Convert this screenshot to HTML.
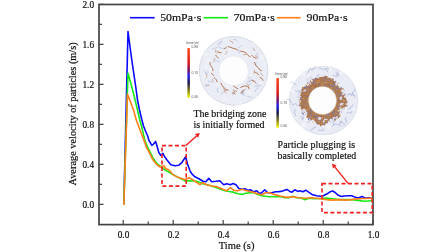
<!DOCTYPE html><html><head><meta charset="utf-8"><title>chart</title><style>html,body{margin:0;padding:0;background:#fff;width:448px;height:252px;overflow:hidden}svg{display:block}text{font-family:"Liberation Serif","Times New Roman",serif;fill:#111;stroke:#111;stroke-width:0.2px}</style></head><body>
<svg width="448" height="252" viewBox="0 0 448 252">
<rect width="448" height="252" fill="#fff"/>
<circle cx="233.6" cy="70.8" r="34.3" fill="#eaedf5" stroke="#cfd4e0" stroke-width="0.8"/>
<circle cx="235.5" cy="96.1" r="1.5" fill="#eff1f7"/>
<circle cx="212.2" cy="54.4" r="0.9" fill="#eff1f7"/>
<circle cx="264.6" cy="73.4" r="1.3" fill="#eff1f7"/>
<circle cx="237.0" cy="104.8" r="1.6" fill="#eff1f7"/>
<circle cx="246.0" cy="50.2" r="2.0" fill="#eff1f7"/>
<circle cx="249.5" cy="92.8" r="2.4" fill="#eff1f7"/>
<circle cx="204.7" cy="66.6" r="2.0" fill="#eff1f7"/>
<circle cx="260.8" cy="82.4" r="1.9" fill="#eff1f7"/>
<circle cx="228.8" cy="85.3" r="2.4" fill="#eff1f7"/>
<circle cx="205.2" cy="75.7" r="2.4" fill="#eff1f7"/>
<circle cx="226.3" cy="38.9" r="1.5" fill="#eff1f7"/>
<circle cx="241.0" cy="48.6" r="2.5" fill="#eff1f7"/>
<circle cx="245.6" cy="59.3" r="1.0" fill="#eff1f7"/>
<circle cx="240.5" cy="103.7" r="1.6" fill="#eff1f7"/>
<circle cx="219.2" cy="56.1" r="1.7" fill="#eff1f7"/>
<circle cx="217.3" cy="85.0" r="1.9" fill="#eff1f7"/>
<circle cx="205.6" cy="54.4" r="2.0" fill="#eff1f7"/>
<circle cx="262.0" cy="57.2" r="2.6" fill="#eff1f7"/>
<circle cx="225.1" cy="55.0" r="2.3" fill="#eff1f7"/>
<circle cx="265.2" cy="63.6" r="1.8" fill="#eff1f7"/>
<circle cx="229.4" cy="52.4" r="2.3" fill="#eff1f7"/>
<circle cx="215.4" cy="61.8" r="0.9" fill="#eff1f7"/>
<circle cx="254.3" cy="43.7" r="1.0" fill="#eff1f7"/>
<circle cx="240.7" cy="49.2" r="1.1" fill="#eff1f7"/>
<circle cx="225.5" cy="99.4" r="2.4" fill="#eff1f7"/>
<circle cx="259.3" cy="78.1" r="0.9" fill="#eff1f7"/>
<circle cx="229.4" cy="50.0" r="2.4" fill="#eff1f7"/>
<circle cx="258.0" cy="67.8" r="2.6" fill="#eff1f7"/>
<circle cx="227.7" cy="85.9" r="1.9" fill="#eff1f7"/>
<circle cx="251.8" cy="74.4" r="1.5" fill="#eff1f7"/>
<circle cx="219.9" cy="59.4" r="0.9" fill="#eff1f7"/>
<circle cx="247.7" cy="55.4" r="2.5" fill="#eff1f7"/>
<circle cx="251.2" cy="57.4" r="1.6" fill="#eff1f7"/>
<circle cx="206.5" cy="67.4" r="1.9" fill="#eff1f7"/>
<circle cx="208.6" cy="61.0" r="2.5" fill="#eff1f7"/>
<circle cx="210.5" cy="69.8" r="2.1" fill="#eff1f7"/>
<circle cx="235.2" cy="91.3" r="2.6" fill="#eff1f7"/>
<circle cx="208.4" cy="67.4" r="0.8" fill="#eff1f7"/>
<circle cx="211.1" cy="84.0" r="0.8" fill="#eff1f7"/>
<circle cx="213.4" cy="52.8" r="0.9" fill="#eff1f7"/>
<path d="M216.8,53.5 L215.9,52.5 L215.5,51.3 L215.7,50.0" fill="none" stroke="#b8704a" stroke-width="0.6" stroke-linecap="round" opacity="0.8"/>
<path d="M253.7,73.6 L254.4,72.5 L254.4,71.2 L254.3,69.9" fill="none" stroke="#b8704a" stroke-width="0.6" stroke-linecap="round" opacity="0.8"/>
<path d="M214.6,58.3 L214.2,59.5 L214.2,60.8 L213.9,62.1" fill="none" stroke="#b8704a" stroke-width="0.6" stroke-linecap="round" opacity="0.8"/>
<path d="M226.3,93.0 L225.3,92.2 L224.4,91.2 L224.1,89.9" fill="none" stroke="#b8704a" stroke-width="0.6" stroke-linecap="round" opacity="0.8"/>
<path d="M225.6,91.1 L225.3,89.8 L224.2,89.1 L223.1,88.4" fill="none" stroke="#b8704a" stroke-width="0.6" stroke-linecap="round" opacity="0.8"/>
<path d="M227.0,51.2 L226.9,52.5 L225.9,53.4 L225.1,54.4" fill="none" stroke="#b8704a" stroke-width="0.6" stroke-linecap="round" opacity="0.8"/>
<path d="M246.7,54.0 L245.7,54.8 L244.4,54.6 L243.1,54.6" fill="none" stroke="#b8704a" stroke-width="0.6" stroke-linecap="round" opacity="0.8"/>
<path d="M236.9,91.4 L235.7,92.0 L234.4,91.8 L233.7,90.7" fill="none" stroke="#b8704a" stroke-width="0.6" stroke-linecap="round" opacity="0.8"/>
<path d="M242.7,91.3 L243.5,90.2 L244.7,89.9 L245.8,89.2" fill="none" stroke="#b8704a" stroke-width="0.6" stroke-linecap="round" opacity="0.8"/>
<path d="M249.0,87.2 L248.7,85.9 L248.0,84.8 L247.2,83.9" fill="none" stroke="#b8704a" stroke-width="0.6" stroke-linecap="round" opacity="0.8"/>
<path d="M212.9,82.2 L213.3,81.0 L212.4,80.1 L212.7,78.8" fill="none" stroke="#b8704a" stroke-width="0.6" stroke-linecap="round" opacity="0.8"/>
<path d="M254.9,50.8 L253.8,50.1 L253.7,48.8 L252.9,47.8" fill="none" stroke="#b8704a" stroke-width="0.6" stroke-linecap="round" opacity="0.8"/>
<path d="M232.8,43.1 L232.2,41.9 L231.1,41.2 L229.9,40.9" fill="none" stroke="#b8704a" stroke-width="0.6" stroke-linecap="round" opacity="0.8"/>
<path d="M236.5,90.9 L235.2,90.8 L234.2,89.9 L233.0,90.2" fill="none" stroke="#b8704a" stroke-width="0.6" stroke-linecap="round" opacity="0.8"/>
<path d="M255.3,55.8 L256.5,56.3 L256.9,57.5 L257.0,58.8" fill="none" stroke="#b8704a" stroke-width="0.6" stroke-linecap="round" opacity="0.8"/>
<path d="M260.4,73.0 L261.4,73.8 L262.1,74.9 L262.8,76.0" fill="none" stroke="#b8704a" stroke-width="0.6" stroke-linecap="round" opacity="0.8"/>
<path d="M209.0,85.6 L207.8,85.2 L206.5,85.4 L205.4,84.7" fill="none" stroke="#b8704a" stroke-width="0.6" stroke-linecap="round" opacity="0.8"/>
<path d="M206.7,74.7 L206.7,76.0 L206.6,77.3 L205.8,78.2" fill="none" stroke="#b8704a" stroke-width="0.6" stroke-linecap="round" opacity="0.8"/>
<path d="M247.5,96.6 L249.0,96.6 L250.2,97.5 L251.6,97.2" fill="none" stroke="#7f8cc4" stroke-width="0.45" stroke-linecap="round" opacity="0.75"/>
<path d="M212.7,48.9 L214.2,48.8 L215.5,48.0 L216.8,47.3" fill="none" stroke="#7f8cc4" stroke-width="0.45" stroke-linecap="round" opacity="0.75"/>
<path d="M211.8,82.2 L210.8,81.1 L209.3,81.1 L208.1,82.0" fill="none" stroke="#7f8cc4" stroke-width="0.45" stroke-linecap="round" opacity="0.75"/>
<path d="M246.9,84.0 L248.2,84.7 L249.6,84.3 L251.1,83.9" fill="none" stroke="#7f8cc4" stroke-width="0.45" stroke-linecap="round" opacity="0.75"/>
<path d="M224.6,91.2 L223.5,92.1 L222.2,92.9 L221.1,93.9" fill="none" stroke="#7f8cc4" stroke-width="0.45" stroke-linecap="round" opacity="0.75"/>
<path d="M241.7,91.8 L242.7,92.9 L243.1,94.4 L243.9,95.7" fill="none" stroke="#7f8cc4" stroke-width="0.45" stroke-linecap="round" opacity="0.75"/>
<path d="M251.4,80.6 L250.2,81.4 L248.7,81.6 L247.3,82.0" fill="none" stroke="#7f8cc4" stroke-width="0.45" stroke-linecap="round" opacity="0.75"/>
<path d="M242.1,45.4 L240.9,46.3 L239.7,47.2 L238.3,47.7" fill="none" stroke="#7f8cc4" stroke-width="0.45" stroke-linecap="round" opacity="0.75"/>
<path d="M209.2,84.1 L208.0,85.1 L206.8,86.0 L205.4,86.4" fill="none" stroke="#7f8cc4" stroke-width="0.45" stroke-linecap="round" opacity="0.75"/>
<path d="M255.1,81.2 L253.7,80.9 L252.9,79.6 L251.8,78.6" fill="none" stroke="#7f8cc4" stroke-width="0.45" stroke-linecap="round" opacity="0.75"/>
<path d="M257.0,53.3 L257.0,54.8 L257.9,56.0 L258.1,57.5" fill="none" stroke="#7f8cc4" stroke-width="0.45" stroke-linecap="round" opacity="0.75"/>
<path d="M217.5,44.7 L218.4,43.4 L219.6,42.6 L220.9,41.9" fill="none" stroke="#7f8cc4" stroke-width="0.45" stroke-linecap="round" opacity="0.75"/>
<path d="M254.6,86.7 L255.8,85.8 L257.3,85.6 L258.2,84.4" fill="none" stroke="#7f8cc4" stroke-width="0.45" stroke-linecap="round" opacity="0.75"/>
<path d="M249.7,81.2 L250.0,79.8 L249.1,78.6 L249.1,77.1" fill="none" stroke="#7f8cc4" stroke-width="0.45" stroke-linecap="round" opacity="0.75"/>
<path d="M255.3,91.5 L255.5,90.0 L256.7,89.2 L258.0,88.4" fill="none" stroke="#7f8cc4" stroke-width="0.45" stroke-linecap="round" opacity="0.75"/>
<path d="M239.1,53.4 L239.3,51.9 L240.0,50.6 L239.7,49.2" fill="none" stroke="#7f8cc4" stroke-width="0.45" stroke-linecap="round" opacity="0.75"/>
<path d="M233.4,39.5 L234.9,39.6 L236.4,39.8 L237.4,40.9" fill="none" stroke="#7f8cc4" stroke-width="0.45" stroke-linecap="round" opacity="0.75"/>
<path d="M234.6,91.1 L234.3,92.6 L233.4,93.7 L232.7,95.1" fill="none" stroke="#7f8cc4" stroke-width="0.45" stroke-linecap="round" opacity="0.75"/>
<path d="M217.8,88.2 L217.1,89.5 L217.5,91.0 L217.9,92.4" fill="none" stroke="#7f8cc4" stroke-width="0.45" stroke-linecap="round" opacity="0.75"/>
<path d="M257.0,66.8 L256.1,65.6 L255.7,64.1 L256.0,62.7" fill="none" stroke="#7f8cc4" stroke-width="0.45" stroke-linecap="round" opacity="0.75"/>
<path d="M222.0,48.4 L220.5,48.2 L219.5,47.0 L218.1,46.7" fill="none" stroke="#7f8cc4" stroke-width="0.45" stroke-linecap="round" opacity="0.75"/>
<path d="M257.2,87.0 L258.5,86.3 L259.7,85.5 L261.2,85.2" fill="none" stroke="#7f8cc4" stroke-width="0.45" stroke-linecap="round" opacity="0.75"/>
<path d="M242.0,90.7 L242.3,92.2 L243.0,93.5 L244.3,94.3" fill="none" stroke="#7f8cc4" stroke-width="0.45" stroke-linecap="round" opacity="0.75"/>
<path d="M222.2,41.3 L221.2,42.5 L220.5,43.8 L219.2,44.5" fill="none" stroke="#7f8cc4" stroke-width="0.45" stroke-linecap="round" opacity="0.75"/>
<path d="M215.0,59.8 L216.3,60.6 L217.6,61.3 L219.1,61.6" fill="none" stroke="#7f8cc4" stroke-width="0.45" stroke-linecap="round" opacity="0.75"/>
<path d="M244.4,91.1 L243.2,92.0 L242.7,93.4 L241.3,93.9" fill="none" stroke="#7f8cc4" stroke-width="0.45" stroke-linecap="round" opacity="0.75"/>
<path d="M207.4,74.2 L206.0,73.6 L205.2,72.4 L204.5,71.0" fill="none" stroke="#7f8cc4" stroke-width="0.45" stroke-linecap="round" opacity="0.75"/>
<path d="M205.6,74.1 L206.3,72.8 L207.5,71.9 L208.9,72.1" fill="none" stroke="#7f8cc4" stroke-width="0.45" stroke-linecap="round" opacity="0.75"/>
<path d="M228.2,46.6 C228.6,46.7 230.0,47.1 231.0,47.5 C231.9,47.8 232.9,48.2 233.7,48.5 C234.6,48.8 235.3,48.7 236.0,49.0 C236.7,49.3 237.6,50.2 237.9,50.4" fill="none" stroke="#ac6438" stroke-width="0.95" stroke-linecap="round" opacity="0.9"/>
<path d="M240.7,51.3 C241.2,51.4 242.7,51.4 243.6,51.7 C244.5,52.1 245.5,52.6 246.2,53.2 C247.0,53.8 247.3,54.8 248.0,55.4 C248.7,56.0 250.0,56.6 250.4,56.8" fill="none" stroke="#ac6438" stroke-width="0.95" stroke-linecap="round" opacity="0.9"/>
<path d="M251.8,55.4 C252.1,55.7 253.0,56.7 253.7,57.1 C254.4,57.6 255.6,58.0 255.9,58.2" fill="none" stroke="#ac6438" stroke-width="0.95" stroke-linecap="round" opacity="0.9"/>
<path d="M254.6,62.4 C254.8,62.9 255.2,64.8 255.9,65.7 C256.6,66.6 258.1,67.3 258.7,67.9 C259.3,68.6 259.1,69.4 259.6,69.8 C260.1,70.3 261.2,70.6 261.5,70.7" fill="none" stroke="#ac6438" stroke-width="0.95" stroke-linecap="round" opacity="0.9"/>
<path d="M254.6,72.1 C255.0,72.3 256.2,72.6 256.9,73.1 C257.6,73.5 258.4,74.6 258.7,74.9" fill="none" stroke="#ac6438" stroke-width="0.95" stroke-linecap="round" opacity="0.9"/>
<path d="M251.8,80.4 C252.2,80.6 253.5,80.9 254.2,81.3 C254.9,81.8 255.7,82.9 255.9,83.2" fill="none" stroke="#ac6438" stroke-width="0.95" stroke-linecap="round" opacity="0.9"/>
<path d="M240.7,87.4 C241.1,87.2 242.4,86.5 243.3,86.2 C244.3,86.0 245.4,85.9 246.2,86.0 C247.0,86.1 247.6,86.5 248.1,86.9 C248.5,87.4 248.8,88.5 249.0,88.8" fill="none" stroke="#ac6438" stroke-width="0.95" stroke-linecap="round" opacity="0.9"/>
<path d="M232.3,84.6 C232.8,85.0 233.9,86.3 234.9,87.0 C235.8,87.7 237.4,88.5 237.9,88.8" fill="none" stroke="#ac6438" stroke-width="0.95" stroke-linecap="round" opacity="0.9"/>
<path d="M221.2,83.2 C221.4,83.6 221.6,85.0 222.0,85.7 C222.5,86.4 223.4,86.8 224.0,87.4 C224.6,88.0 224.9,89.0 225.6,89.4 C226.3,89.9 227.7,90.0 228.2,90.2" fill="none" stroke="#ac6438" stroke-width="0.95" stroke-linecap="round" opacity="0.9"/>
<path d="M214.3,77.7 C214.6,78.0 215.6,78.8 216.1,79.5 C216.5,80.2 216.9,81.4 217.1,81.8" fill="none" stroke="#ac6438" stroke-width="0.95" stroke-linecap="round" opacity="0.9"/>
<path d="M210.1,62.4 C210.1,62.8 209.9,64.0 210.1,64.7 C210.3,65.4 211.1,65.9 211.5,66.6 C211.9,67.2 212.3,67.8 212.5,68.5 C212.8,69.2 212.8,70.4 212.9,70.7" fill="none" stroke="#ac6438" stroke-width="0.95" stroke-linecap="round" opacity="0.9"/>
<path d="M215.7,55.4 C215.9,55.7 216.7,56.3 217.2,56.7 C217.6,57.2 218.2,58.0 218.4,58.2" fill="none" stroke="#ac6438" stroke-width="0.95" stroke-linecap="round" opacity="0.9"/>
<path d="M217.1,51.3 C217.4,51.5 218.3,52.2 219.0,52.4 C219.7,52.6 220.9,52.6 221.2,52.7" fill="none" stroke="#ac6438" stroke-width="0.95" stroke-linecap="round" opacity="0.9"/>
<path d="M232.3,92.9 C232.6,92.9 233.6,92.7 234.1,92.9 C234.6,93.1 234.9,94.1 235.1,94.3" fill="none" stroke="#ac6438" stroke-width="0.95" stroke-linecap="round" opacity="0.9"/>
<path d="M260.1,77.7 C260.4,77.8 261.6,78.0 262.1,78.5 C262.5,78.9 262.8,80.1 262.9,80.4" fill="none" stroke="#ac6438" stroke-width="0.95" stroke-linecap="round" opacity="0.9"/>
<path d="M224.0,48.5 C224.2,48.5 225.1,48.6 225.5,48.4 C225.8,48.1 226.1,47.3 226.2,47.1" fill="none" stroke="#ac6438" stroke-width="0.95" stroke-linecap="round" opacity="0.9"/>
<path d="M243.4,90.2 C243.3,90.4 242.8,91.4 242.4,91.9 C241.9,92.3 240.9,92.8 240.7,92.9" fill="none" stroke="#ac6438" stroke-width="0.95" stroke-linecap="round" opacity="0.9"/>
<path d="M211.5,73.5 C211.7,73.6 212.4,73.9 212.7,74.3 C213.0,74.6 213.3,75.2 213.4,75.4" fill="none" stroke="#ac6438" stroke-width="0.95" stroke-linecap="round" opacity="0.9"/>
<circle cx="233.6" cy="70.8" r="14.7" fill="#fdfdfd" stroke="#d8dce6" stroke-width="0.4"/>
<circle cx="323.6" cy="100.6" r="34.2" fill="#e9ecf4" stroke="#d3d8e4" stroke-width="0.7"/>
<circle cx="316.0" cy="115.8" r="2.0" fill="#f1f3f8"/>
<circle cx="345.9" cy="111.5" r="1.5" fill="#f1f3f8"/>
<circle cx="346.3" cy="109.2" r="0.9" fill="#f1f3f8"/>
<circle cx="309.5" cy="106.8" r="1.0" fill="#f1f3f8"/>
<circle cx="296.3" cy="114.6" r="1.0" fill="#f1f3f8"/>
<circle cx="328.1" cy="126.9" r="2.5" fill="#f1f3f8"/>
<circle cx="304.1" cy="90.4" r="2.6" fill="#f1f3f8"/>
<circle cx="353.6" cy="109.6" r="1.3" fill="#f1f3f8"/>
<circle cx="333.7" cy="113.5" r="1.4" fill="#f1f3f8"/>
<circle cx="330.7" cy="84.4" r="1.8" fill="#f1f3f8"/>
<circle cx="309.8" cy="84.1" r="1.8" fill="#f1f3f8"/>
<circle cx="337.6" cy="106.4" r="1.2" fill="#f1f3f8"/>
<circle cx="314.0" cy="80.1" r="1.4" fill="#f1f3f8"/>
<circle cx="303.7" cy="88.7" r="1.3" fill="#f1f3f8"/>
<circle cx="331.3" cy="73.6" r="1.2" fill="#f1f3f8"/>
<circle cx="301.6" cy="89.5" r="2.4" fill="#f1f3f8"/>
<circle cx="321.0" cy="80.9" r="2.6" fill="#f1f3f8"/>
<circle cx="340.1" cy="115.8" r="2.2" fill="#f1f3f8"/>
<circle cx="337.4" cy="120.1" r="0.9" fill="#f1f3f8"/>
<circle cx="309.1" cy="75.0" r="1.8" fill="#f1f3f8"/>
<circle cx="338.0" cy="86.3" r="2.1" fill="#f1f3f8"/>
<circle cx="302.3" cy="86.2" r="1.6" fill="#f1f3f8"/>
<circle cx="341.3" cy="72.7" r="1.7" fill="#f1f3f8"/>
<circle cx="315.8" cy="87.5" r="2.1" fill="#f1f3f8"/>
<circle cx="303.1" cy="73.4" r="2.3" fill="#f1f3f8"/>
<circle cx="318.9" cy="121.9" r="2.0" fill="#f1f3f8"/>
<circle cx="346.7" cy="103.9" r="1.1" fill="#f1f3f8"/>
<circle cx="334.9" cy="110.8" r="2.2" fill="#f1f3f8"/>
<circle cx="336.7" cy="114.4" r="1.5" fill="#f1f3f8"/>
<circle cx="334.4" cy="89.3" r="1.6" fill="#f1f3f8"/>
<circle cx="293.3" cy="90.9" r="2.3" fill="#f1f3f8"/>
<circle cx="336.5" cy="85.8" r="1.5" fill="#f1f3f8"/>
<circle cx="303.5" cy="125.3" r="2.5" fill="#f1f3f8"/>
<circle cx="333.8" cy="114.9" r="1.2" fill="#f1f3f8"/>
<circle cx="326.1" cy="124.3" r="1.9" fill="#f1f3f8"/>
<circle cx="322.5" cy="114.6" r="1.6" fill="#f1f3f8"/>
<circle cx="306.3" cy="119.2" r="2.5" fill="#f1f3f8"/>
<circle cx="314.7" cy="77.9" r="1.9" fill="#f1f3f8"/>
<circle cx="316.8" cy="87.1" r="2.4" fill="#f1f3f8"/>
<circle cx="329.5" cy="69.5" r="2.2" fill="#f1f3f8"/>
<path d="M301.4,118.4 L302.0,119.4 L303.2,119.3 L303.6,118.1 L303.1,117.0 L301.9,116.8 L300.7,117.0" fill="none" stroke="#4858a8" stroke-width="0.45" stroke-linecap="round" stroke-linejoin="round" opacity="0.6"/>
<path d="M348.2,109.0 L349.4,108.9 L350.5,108.4 L350.4,107.2 L351.3,106.5 L352.4,106.0 L352.7,104.8" fill="none" stroke="#4858a8" stroke-width="0.45" stroke-linecap="round" stroke-linejoin="round" opacity="0.6"/>
<path d="M323.2,128.8 L323.5,129.9 L322.8,130.9 L321.7,130.5 L320.5,130.1 L319.3,129.9 L318.6,130.8" fill="none" stroke="#4858a8" stroke-width="0.45" stroke-linecap="round" stroke-linejoin="round" opacity="0.6"/>
<path d="M346.1,117.4 L345.1,118.1 L345.1,119.3 L346.2,119.8 L346.2,121.0 L346.1,122.2 L347.0,123.0" fill="none" stroke="#4858a8" stroke-width="0.45" stroke-linecap="round" stroke-linejoin="round" opacity="0.6"/>
<path d="M298.4,93.6 L298.2,92.4 L299.1,91.6 L300.2,91.2 L301.0,90.3 L301.4,89.2 L300.8,88.1" fill="none" stroke="#4858a8" stroke-width="0.45" stroke-linecap="round" stroke-linejoin="round" opacity="0.6"/>
<path d="M327.6,71.6 L327.3,70.4 L326.3,69.7 L326.1,68.6 L327.2,68.0 L328.3,68.5 L328.7,69.6" fill="none" stroke="#4858a8" stroke-width="0.45" stroke-linecap="round" stroke-linejoin="round" opacity="0.6"/>
<path d="M336.3,72.8 L336.4,74.0 L337.0,75.0 L338.2,74.9 L338.4,73.7 L338.0,72.6 L337.0,71.9" fill="none" stroke="#4858a8" stroke-width="0.45" stroke-linecap="round" stroke-linejoin="round" opacity="0.6"/>
<path d="M312.3,70.7 L311.5,69.9 L312.1,68.8 L313.3,69.0 L314.4,68.7 L315.1,67.7 L315.0,66.5" fill="none" stroke="#4858a8" stroke-width="0.45" stroke-linecap="round" stroke-linejoin="round" opacity="0.6"/>
<path d="M332.6,126.4 L332.9,125.2 L333.9,124.7 L335.0,124.1 L336.2,124.0 L337.1,124.8 L338.2,124.3" fill="none" stroke="#4858a8" stroke-width="0.45" stroke-linecap="round" stroke-linejoin="round" opacity="0.6"/>
<path d="M306.7,73.8 L307.6,73.0 L308.5,72.2 L308.5,71.0 L309.2,70.1 L309.6,68.9 L310.6,68.3" fill="none" stroke="#4858a8" stroke-width="0.45" stroke-linecap="round" stroke-linejoin="round" opacity="0.6"/>
<path d="M351.6,95.6 L350.6,94.9 L350.1,93.9 L348.9,93.5 L348.0,94.3 L348.0,95.5 L347.0,96.1" fill="none" stroke="#4858a8" stroke-width="0.45" stroke-linecap="round" stroke-linejoin="round" opacity="0.6"/>
<path d="M332.9,75.4 L334.1,75.6 L335.1,76.2 L336.3,76.4 L337.5,76.8 L338.4,76.0 L338.0,74.9" fill="none" stroke="#4858a8" stroke-width="0.45" stroke-linecap="round" stroke-linejoin="round" opacity="0.6"/>
<path d="M353.1,95.1 L352.8,94.0 L352.3,92.9 L352.9,91.9 L354.0,91.6 L354.7,90.6 L354.7,89.4" fill="none" stroke="#4858a8" stroke-width="0.45" stroke-linecap="round" stroke-linejoin="round" opacity="0.6"/>
<path d="M316.3,127.1 L315.1,127.2 L313.9,127.5 L313.5,128.7 L312.4,128.9 L311.4,129.5 L310.4,130.3" fill="none" stroke="#4858a8" stroke-width="0.45" stroke-linecap="round" stroke-linejoin="round" opacity="0.6"/>
<path d="M296.2,84.8 L295.2,84.1 L294.2,83.5 L293.3,82.7 L292.4,81.9 L291.4,82.5 L290.4,83.2" fill="none" stroke="#4858a8" stroke-width="0.45" stroke-linecap="round" stroke-linejoin="round" opacity="0.6"/>
<path d="M334.2,124.4 L333.6,123.3 L332.9,122.3 L332.9,121.1 L333.0,120.0 L332.6,118.8 L332.3,117.7" fill="none" stroke="#4858a8" stroke-width="0.45" stroke-linecap="round" stroke-linejoin="round" opacity="0.6"/>
<path d="M294.6,90.1 L295.4,90.9 L296.6,91.2 L297.7,90.7 L298.8,91.0 L300.0,91.4 L301.0,92.0" fill="none" stroke="#4858a8" stroke-width="0.45" stroke-linecap="round" stroke-linejoin="round" opacity="0.6"/>
<path d="M325.6,69.0 L324.4,69.1 L323.2,69.1 L322.0,69.2 L320.9,68.6 L319.8,68.2 L318.7,67.7" fill="none" stroke="#4858a8" stroke-width="0.45" stroke-linecap="round" stroke-linejoin="round" opacity="0.6"/>
<path d="M292.1,105.0 L292.8,104.0 L294.0,104.3 L295.1,103.9 L296.2,103.6 L297.0,104.5 L296.7,105.7" fill="none" stroke="#4858a8" stroke-width="0.45" stroke-linecap="round" stroke-linejoin="round" opacity="0.6"/>
<path d="M341.0,120.9 L340.9,122.1 L341.6,123.1 L342.8,123.0 L343.9,123.3 L344.5,124.4 L343.9,125.4" fill="none" stroke="#4858a8" stroke-width="0.45" stroke-linecap="round" stroke-linejoin="round" opacity="0.6"/>
<path d="M340.8,125.7 L339.6,125.6 L339.0,124.6 L339.8,123.7 L339.8,122.5 L340.9,122.0 L341.9,121.2" fill="none" stroke="#4858a8" stroke-width="0.45" stroke-linecap="round" stroke-linejoin="round" opacity="0.6"/>
<path d="M291.6,103.2 L291.1,102.1 L290.5,101.0 L289.9,100.0 L289.0,99.2 L287.8,99.4 L286.8,100.1" fill="none" stroke="#4858a8" stroke-width="0.45" stroke-linecap="round" stroke-linejoin="round" opacity="0.6"/>
<path d="M319.0,74.9 L317.9,74.7 L317.3,75.7 L317.2,76.9 L316.8,78.0 L316.3,79.1 L317.1,80.0" fill="none" stroke="#4858a8" stroke-width="0.45" stroke-linecap="round" stroke-linejoin="round" opacity="0.6"/>
<path d="M354.4,97.7 L354.8,96.6 L354.5,95.4 L353.3,95.3 L352.5,94.4 L351.4,94.1 L350.4,94.8" fill="none" stroke="#4858a8" stroke-width="0.45" stroke-linecap="round" stroke-linejoin="round" opacity="0.6"/>
<path d="M295.7,115.5 L295.4,114.3 L294.3,113.7 L294.3,112.5 L294.5,111.4 L295.3,110.4 L294.8,109.3" fill="none" stroke="#4858a8" stroke-width="0.45" stroke-linecap="round" stroke-linejoin="round" opacity="0.6"/>
<path d="M351.9,111.3 L351.9,112.5 L350.8,113.0 L349.6,113.1 L348.7,112.4 L347.6,112.8 L346.6,112.2" fill="none" stroke="#4858a8" stroke-width="0.45" stroke-linecap="round" stroke-linejoin="round" opacity="0.6"/>
<polygon points="345.2,100.5 348.2,101.7 347.2,102.7 346.8,103.8 347.3,105.0 348.0,106.3 345.3,106.8 344.1,107.5 344.4,108.7 342.6,109.1 341.4,109.6 340.9,110.4 339.9,110.9 339.8,111.9 339.6,112.9 339.1,113.8 339.7,115.5 338.0,115.3 337.8,116.5 336.3,116.3 335.8,117.2 334.2,116.6 333.7,117.5 332.4,117.0 332.6,119.3 331.4,119.0 330.2,118.4 329.7,119.8 329.5,121.9 327.9,120.2 327.7,123.3 326.6,123.0 325.7,123.9 324.8,125.7 323.6,124.7 322.5,125.2 321.4,125.7 320.2,126.4 319.3,123.9 318.1,124.9 317.2,123.9 316.3,123.1 315.5,121.9 314.7,121.3 314.1,120.1 313.1,120.0 312.3,119.5 310.3,121.0 310.2,119.1 309.6,118.3 309.1,117.3 307.0,118.2 306.5,117.2 306.6,115.7 307.3,113.8 307.2,112.7 306.8,111.9 306.0,111.4 306.3,110.2 304.8,110.0 304.5,109.1 301.6,109.4 300.6,108.7 300.9,107.5 301.1,106.4 298.1,106.1 299.7,104.6 299.3,103.6 300.4,102.5 299.2,101.5 299.1,100.5 299.3,99.5 300.4,98.5 299.6,97.4 301.3,96.7 300.5,95.5 301.1,94.6 300.2,93.2 301.4,92.6 301.7,91.6 301.3,90.3 302.2,89.6 302.0,88.3 303.2,87.8 303.7,86.9 305.1,86.6 306.1,86.2 306.8,85.4 308.8,86.2 309.7,85.8 309.0,83.6 311.2,85.0 310.7,82.6 311.4,82.0 312.9,82.7 312.5,79.6 313.2,78.7 314.4,78.9 315.2,78.1 316.2,77.6 317.7,79.5 318.5,78.3 319.5,78.2 320.4,77.1 321.4,77.0 322.5,76.7 323.5,77.1 324.7,75.8 325.8,76.1 327.0,75.8 327.8,77.2 328.7,78.0 329.8,78.0 331.0,77.9 331.5,79.5 333.2,78.3 333.4,80.2 334.1,81.1 334.6,82.1 335.3,82.9 335.4,84.3 335.1,86.1 337.5,84.8 338.2,85.5 338.4,86.6 339.3,87.1 340.5,87.4 339.6,89.2 342.0,88.8 341.1,90.5 340.9,91.6 341.7,92.3 343.3,92.7 341.9,94.2 343.8,94.6 345.0,95.4 343.9,96.6 344.2,97.6 345.2,98.5 346.5,99.4 347.4,100.5" fill="#a97a5a"/>
<circle cx="307.3" cy="86.8" r="0.67" fill="#8a7cab"/>
<circle cx="312.4" cy="118.4" r="0.68" fill="#d49444"/>
<circle cx="335.1" cy="114.5" r="0.52" fill="#d0a060"/>
<circle cx="312.6" cy="82.0" r="0.53" fill="#d0a060"/>
<circle cx="304.0" cy="98.6" r="0.75" fill="#d0a060"/>
<circle cx="342.0" cy="99.7" r="0.84" fill="#d49444"/>
<circle cx="335.6" cy="95.0" r="0.43" fill="#d0a060"/>
<circle cx="298.6" cy="99.5" r="0.57" fill="#d49444"/>
<circle cx="342.7" cy="88.8" r="0.66" fill="#8a7cab"/>
<circle cx="334.6" cy="115.5" r="0.46" fill="#a0663a"/>
<circle cx="330.6" cy="83.2" r="0.72" fill="#8a7cab"/>
<circle cx="325.2" cy="123.3" r="0.58" fill="#d0a060"/>
<circle cx="335.2" cy="120.3" r="0.58" fill="#d0a060"/>
<circle cx="319.9" cy="82.5" r="0.54" fill="#8a80b8"/>
<circle cx="330.0" cy="88.7" r="0.78" fill="#a0663a"/>
<circle cx="339.5" cy="116.4" r="0.81" fill="#c98634"/>
<circle cx="318.1" cy="117.7" r="0.58" fill="#8a80b8"/>
<circle cx="332.6" cy="89.7" r="0.74" fill="#8a80b8"/>
<circle cx="332.7" cy="87.2" r="0.78" fill="#c98634"/>
<circle cx="317.3" cy="123.3" r="0.84" fill="#7874b0"/>
<circle cx="306.7" cy="107.2" r="0.75" fill="#a0663a"/>
<circle cx="309.7" cy="106.8" r="0.81" fill="#8a80b8"/>
<circle cx="340.7" cy="93.4" r="0.42" fill="#8a7cab"/>
<circle cx="320.4" cy="82.1" r="0.69" fill="#c07830"/>
<circle cx="319.2" cy="114.6" r="0.48" fill="#c07830"/>
<circle cx="308.0" cy="109.1" r="0.73" fill="#d49444"/>
<circle cx="338.9" cy="98.0" r="0.54" fill="#7874b0"/>
<circle cx="305.7" cy="94.2" r="0.69" fill="#c07830"/>
<circle cx="339.4" cy="109.1" r="0.65" fill="#d0a060"/>
<circle cx="305.9" cy="105.5" r="0.59" fill="#d0a060"/>
<circle cx="306.8" cy="95.6" r="0.55" fill="#c07830"/>
<circle cx="336.3" cy="109.4" r="0.76" fill="#d49444"/>
<circle cx="326.7" cy="114.1" r="0.57" fill="#8a80b8"/>
<circle cx="322.1" cy="84.4" r="0.55" fill="#d49444"/>
<circle cx="338.0" cy="106.9" r="0.46" fill="#a0663a"/>
<circle cx="302.2" cy="100.1" r="0.44" fill="#7874b0"/>
<circle cx="336.7" cy="89.7" r="0.59" fill="#d0a060"/>
<circle cx="314.1" cy="121.0" r="0.46" fill="#c98634"/>
<circle cx="303.2" cy="110.3" r="0.84" fill="#d0a060"/>
<circle cx="307.8" cy="101.4" r="0.84" fill="#d0a060"/>
<circle cx="322.6" cy="115.6" r="0.47" fill="#c07830"/>
<circle cx="337.4" cy="97.8" r="0.44" fill="#d0a060"/>
<circle cx="324.9" cy="86.7" r="0.50" fill="#c07830"/>
<circle cx="340.4" cy="90.6" r="0.83" fill="#d49444"/>
<circle cx="309.0" cy="86.7" r="0.71" fill="#8a80b8"/>
<circle cx="333.7" cy="110.0" r="0.57" fill="#7874b0"/>
<circle cx="325.8" cy="120.2" r="0.64" fill="#c98634"/>
<circle cx="339.3" cy="100.1" r="0.69" fill="#a0663a"/>
<circle cx="336.5" cy="88.0" r="0.65" fill="#7874b0"/>
<circle cx="340.3" cy="103.8" r="0.42" fill="#d49444"/>
<circle cx="330.4" cy="122.0" r="0.44" fill="#8a80b8"/>
<circle cx="325.0" cy="118.6" r="0.50" fill="#a0663a"/>
<circle cx="339.5" cy="104.2" r="0.56" fill="#8a80b8"/>
<circle cx="311.3" cy="109.0" r="0.73" fill="#d49444"/>
<circle cx="306.5" cy="100.0" r="0.54" fill="#7874b0"/>
<circle cx="329.4" cy="85.7" r="0.52" fill="#7874b0"/>
<circle cx="334.1" cy="90.8" r="0.67" fill="#d0a060"/>
<circle cx="337.5" cy="89.1" r="0.83" fill="#c98634"/>
<circle cx="333.4" cy="114.8" r="0.41" fill="#7874b0"/>
<circle cx="307.6" cy="90.2" r="0.48" fill="#c98634"/>
<circle cx="302.4" cy="107.1" r="0.73" fill="#a0663a"/>
<circle cx="345.8" cy="100.1" r="0.49" fill="#a0663a"/>
<circle cx="311.4" cy="84.8" r="0.41" fill="#d0a060"/>
<circle cx="313.4" cy="85.2" r="0.84" fill="#a0663a"/>
<circle cx="308.4" cy="105.8" r="0.53" fill="#8a7cab"/>
<circle cx="308.5" cy="119.4" r="0.65" fill="#8a7cab"/>
<circle cx="323.5" cy="82.7" r="0.77" fill="#d49444"/>
<circle cx="309.3" cy="106.5" r="0.49" fill="#d0a060"/>
<circle cx="304.7" cy="95.7" r="0.56" fill="#a0663a"/>
<circle cx="333.9" cy="91.9" r="0.51" fill="#8a80b8"/>
<circle cx="309.8" cy="87.7" r="0.42" fill="#8a80b8"/>
<circle cx="343.9" cy="109.4" r="0.49" fill="#d49444"/>
<circle cx="341.0" cy="108.2" r="0.52" fill="#a0663a"/>
<circle cx="342.0" cy="95.2" r="0.74" fill="#d49444"/>
<circle cx="313.9" cy="78.9" r="0.40" fill="#d49444"/>
<circle cx="323.3" cy="77.3" r="0.41" fill="#8a7cab"/>
<circle cx="324.4" cy="119.2" r="0.83" fill="#d0a060"/>
<circle cx="310.0" cy="111.3" r="0.77" fill="#8a80b8"/>
<circle cx="335.2" cy="114.5" r="0.76" fill="#c98634"/>
<circle cx="320.9" cy="78.3" r="0.67" fill="#c07830"/>
<circle cx="314.4" cy="115.7" r="0.75" fill="#a0663a"/>
<circle cx="306.7" cy="89.7" r="0.74" fill="#8a80b8"/>
<circle cx="322.7" cy="115.1" r="0.62" fill="#c98634"/>
<circle cx="307.5" cy="96.2" r="0.80" fill="#8a80b8"/>
<circle cx="339.1" cy="99.2" r="0.49" fill="#8a7cab"/>
<circle cx="301.5" cy="111.9" r="0.48" fill="#d0a060"/>
<circle cx="335.0" cy="114.3" r="0.74" fill="#7874b0"/>
<circle cx="334.3" cy="83.6" r="0.75" fill="#8a7cab"/>
<circle cx="317.9" cy="116.7" r="0.57" fill="#d49444"/>
<circle cx="321.3" cy="84.6" r="0.48" fill="#7874b0"/>
<circle cx="324.0" cy="117.2" r="0.55" fill="#7874b0"/>
<circle cx="303.5" cy="115.0" r="0.69" fill="#7874b0"/>
<circle cx="337.5" cy="111.5" r="0.45" fill="#c98634"/>
<circle cx="300.6" cy="104.0" r="0.81" fill="#d0a060"/>
<circle cx="338.9" cy="104.7" r="0.42" fill="#8a7cab"/>
<circle cx="304.5" cy="87.4" r="0.82" fill="#7874b0"/>
<circle cx="306.8" cy="116.8" r="0.67" fill="#d0a060"/>
<circle cx="325.7" cy="80.1" r="0.45" fill="#c98634"/>
<circle cx="305.9" cy="89.0" r="0.42" fill="#7874b0"/>
<circle cx="314.8" cy="112.7" r="0.42" fill="#d49444"/>
<circle cx="319.9" cy="77.5" r="0.77" fill="#c98634"/>
<circle cx="307.6" cy="110.1" r="0.44" fill="#d49444"/>
<circle cx="341.1" cy="104.2" r="0.43" fill="#d0a060"/>
<circle cx="336.9" cy="111.2" r="0.69" fill="#c07830"/>
<circle cx="335.6" cy="109.0" r="0.58" fill="#d49444"/>
<circle cx="319.0" cy="117.2" r="0.54" fill="#c98634"/>
<circle cx="306.4" cy="93.4" r="0.41" fill="#8a80b8"/>
<circle cx="324.8" cy="78.6" r="0.58" fill="#7874b0"/>
<circle cx="303.1" cy="113.7" r="0.81" fill="#8a80b8"/>
<circle cx="302.8" cy="110.7" r="0.66" fill="#8a80b8"/>
<circle cx="308.2" cy="116.8" r="0.41" fill="#c07830"/>
<circle cx="303.2" cy="94.0" r="0.44" fill="#8a80b8"/>
<circle cx="309.8" cy="88.2" r="0.47" fill="#c07830"/>
<circle cx="318.5" cy="119.3" r="0.45" fill="#8a7cab"/>
<circle cx="300.5" cy="101.8" r="0.54" fill="#7874b0"/>
<circle cx="330.0" cy="88.2" r="0.54" fill="#d0a060"/>
<circle cx="306.6" cy="87.8" r="0.81" fill="#8a7cab"/>
<circle cx="306.3" cy="85.2" r="0.69" fill="#c07830"/>
<circle cx="335.0" cy="84.7" r="0.77" fill="#7874b0"/>
<circle cx="329.1" cy="115.3" r="0.82" fill="#8a80b8"/>
<circle cx="332.3" cy="115.1" r="0.51" fill="#c07830"/>
<circle cx="318.9" cy="77.8" r="0.80" fill="#c98634"/>
<circle cx="333.9" cy="83.2" r="0.45" fill="#a0663a"/>
<circle cx="306.7" cy="89.1" r="0.69" fill="#d49444"/>
<circle cx="316.6" cy="115.9" r="0.70" fill="#8a80b8"/>
<circle cx="305.1" cy="106.5" r="0.40" fill="#c98634"/>
<circle cx="341.1" cy="98.9" r="0.74" fill="#d0a060"/>
<circle cx="326.0" cy="82.2" r="0.76" fill="#c07830"/>
<circle cx="310.6" cy="109.1" r="0.59" fill="#a0663a"/>
<circle cx="337.9" cy="110.5" r="0.42" fill="#c98634"/>
<circle cx="338.4" cy="117.5" r="0.75" fill="#a0663a"/>
<circle cx="308.0" cy="99.5" r="0.69" fill="#8a80b8"/>
<circle cx="325.5" cy="86.6" r="0.85" fill="#8a7cab"/>
<circle cx="320.0" cy="78.5" r="0.46" fill="#7874b0"/>
<circle cx="335.2" cy="89.4" r="0.71" fill="#c07830"/>
<circle cx="319.6" cy="84.6" r="0.67" fill="#a0663a"/>
<circle cx="322.3" cy="117.7" r="0.81" fill="#d49444"/>
<circle cx="306.6" cy="105.0" r="0.49" fill="#d0a060"/>
<circle cx="321.0" cy="119.5" r="0.57" fill="#a0663a"/>
<circle cx="328.2" cy="117.6" r="0.71" fill="#d49444"/>
<circle cx="334.9" cy="90.9" r="0.45" fill="#d49444"/>
<circle cx="302.5" cy="96.6" r="0.83" fill="#a0663a"/>
<circle cx="304.1" cy="106.1" r="0.51" fill="#8a7cab"/>
<circle cx="300.5" cy="95.5" r="0.52" fill="#a0663a"/>
<circle cx="342.2" cy="99.3" r="0.55" fill="#a0663a"/>
<circle cx="336.7" cy="108.5" r="0.53" fill="#c98634"/>
<circle cx="305.5" cy="98.8" r="0.73" fill="#a0663a"/>
<circle cx="322.2" cy="84.3" r="0.68" fill="#d49444"/>
<circle cx="305.1" cy="108.4" r="0.46" fill="#c98634"/>
<circle cx="325.4" cy="120.8" r="0.42" fill="#c98634"/>
<circle cx="307.0" cy="93.5" r="0.64" fill="#a0663a"/>
<circle cx="308.0" cy="109.3" r="0.49" fill="#c07830"/>
<circle cx="309.2" cy="87.3" r="0.41" fill="#c07830"/>
<circle cx="329.2" cy="80.5" r="0.44" fill="#d0a060"/>
<circle cx="307.8" cy="83.2" r="0.58" fill="#d49444"/>
<circle cx="321.2" cy="114.6" r="0.67" fill="#a0663a"/>
<circle cx="304.9" cy="91.0" r="0.51" fill="#d0a060"/>
<circle cx="334.4" cy="92.3" r="0.58" fill="#c98634"/>
<circle cx="323.6" cy="115.0" r="0.41" fill="#8a7cab"/>
<circle cx="300.3" cy="93.1" r="0.59" fill="#c07830"/>
<circle cx="302.2" cy="98.2" r="0.77" fill="#8a80b8"/>
<circle cx="330.3" cy="115.7" r="0.68" fill="#d49444"/>
<circle cx="343.7" cy="99.7" r="0.72" fill="#d0a060"/>
<circle cx="344.9" cy="101.4" r="0.44" fill="#d0a060"/>
<circle cx="313.7" cy="87.4" r="0.52" fill="#8a7cab"/>
<circle cx="313.1" cy="88.5" r="0.72" fill="#d49444"/>
<circle cx="320.5" cy="119.9" r="0.71" fill="#8a80b8"/>
<circle cx="343.1" cy="88.7" r="0.69" fill="#d49444"/>
<circle cx="338.3" cy="97.0" r="0.48" fill="#c98634"/>
<circle cx="341.0" cy="87.9" r="0.83" fill="#7874b0"/>
<circle cx="322.1" cy="83.2" r="0.55" fill="#8a80b8"/>
<circle cx="324.1" cy="123.5" r="0.61" fill="#d0a060"/>
<circle cx="308.7" cy="97.8" r="0.60" fill="#c98634"/>
<circle cx="319.4" cy="81.0" r="0.76" fill="#d49444"/>
<circle cx="307.1" cy="113.0" r="0.47" fill="#c07830"/>
<circle cx="337.4" cy="103.0" r="0.56" fill="#c07830"/>
<circle cx="331.5" cy="111.6" r="0.46" fill="#c98634"/>
<circle cx="313.6" cy="89.2" r="0.73" fill="#8a7cab"/>
<circle cx="340.7" cy="108.5" r="0.49" fill="#a0663a"/>
<circle cx="341.1" cy="95.1" r="0.80" fill="#8a7cab"/>
<circle cx="323.3" cy="79.4" r="0.45" fill="#8a80b8"/>
<circle cx="326.7" cy="115.0" r="0.83" fill="#c98634"/>
<circle cx="340.8" cy="89.1" r="0.77" fill="#8a7cab"/>
<circle cx="311.1" cy="88.1" r="0.46" fill="#8a7cab"/>
<circle cx="327.8" cy="80.7" r="0.54" fill="#d49444"/>
<circle cx="309.9" cy="107.0" r="0.82" fill="#d49444"/>
<circle cx="343.1" cy="107.0" r="0.75" fill="#a0663a"/>
<circle cx="307.5" cy="89.3" r="0.68" fill="#d49444"/>
<circle cx="340.3" cy="104.0" r="0.63" fill="#8a80b8"/>
<circle cx="337.7" cy="111.3" r="0.64" fill="#c98634"/>
<circle cx="327.2" cy="122.6" r="0.66" fill="#8a7cab"/>
<circle cx="318.3" cy="118.4" r="0.53" fill="#7874b0"/>
<circle cx="322.5" cy="86.0" r="0.62" fill="#a0663a"/>
<circle cx="300.6" cy="101.7" r="0.84" fill="#c07830"/>
<circle cx="302.8" cy="87.6" r="0.66" fill="#d49444"/>
<circle cx="334.5" cy="119.1" r="0.62" fill="#7874b0"/>
<circle cx="338.2" cy="113.5" r="0.62" fill="#8a7cab"/>
<circle cx="342.1" cy="99.4" r="0.68" fill="#8a7cab"/>
<circle cx="311.4" cy="114.7" r="0.80" fill="#8a80b8"/>
<circle cx="322.0" cy="82.3" r="0.57" fill="#c98634"/>
<circle cx="316.5" cy="117.8" r="0.57" fill="#c07830"/>
<circle cx="334.7" cy="89.6" r="0.46" fill="#d0a060"/>
<circle cx="305.2" cy="88.9" r="0.56" fill="#c98634"/>
<circle cx="315.3" cy="114.3" r="0.70" fill="#d0a060"/>
<circle cx="321.7" cy="84.8" r="0.71" fill="#d0a060"/>
<circle cx="321.8" cy="116.8" r="0.61" fill="#a0663a"/>
<circle cx="334.8" cy="89.7" r="0.52" fill="#7874b0"/>
<circle cx="323.2" cy="78.2" r="0.73" fill="#c07830"/>
<circle cx="343.5" cy="97.1" r="0.47" fill="#a0663a"/>
<circle cx="315.0" cy="114.5" r="0.47" fill="#8a7cab"/>
<circle cx="313.8" cy="87.1" r="0.84" fill="#c07830"/>
<circle cx="328.4" cy="80.0" r="0.52" fill="#8a80b8"/>
<circle cx="340.4" cy="115.2" r="0.49" fill="#d49444"/>
<circle cx="311.5" cy="109.8" r="0.78" fill="#8a80b8"/>
<circle cx="307.5" cy="106.8" r="0.61" fill="#d49444"/>
<circle cx="335.1" cy="116.1" r="0.40" fill="#8a80b8"/>
<circle cx="323.6" cy="123.0" r="0.78" fill="#8a80b8"/>
<circle cx="312.4" cy="82.6" r="0.71" fill="#7874b0"/>
<circle cx="310.8" cy="86.1" r="0.52" fill="#a0663a"/>
<circle cx="315.5" cy="78.6" r="0.75" fill="#7874b0"/>
<circle cx="317.8" cy="80.7" r="0.78" fill="#d49444"/>
<circle cx="308.4" cy="102.0" r="0.63" fill="#8a80b8"/>
<circle cx="310.5" cy="81.2" r="0.75" fill="#a0663a"/>
<circle cx="308.0" cy="112.7" r="0.42" fill="#8a7cab"/>
<circle cx="307.5" cy="96.3" r="0.63" fill="#7874b0"/>
<circle cx="338.4" cy="112.2" r="0.72" fill="#7874b0"/>
<circle cx="302.2" cy="98.9" r="0.63" fill="#a0663a"/>
<circle cx="302.6" cy="113.0" r="0.85" fill="#7874b0"/>
<circle cx="330.2" cy="118.0" r="0.73" fill="#8a7cab"/>
<circle cx="307.1" cy="87.1" r="0.52" fill="#d49444"/>
<circle cx="311.1" cy="108.8" r="0.81" fill="#8a80b8"/>
<circle cx="308.2" cy="85.5" r="0.45" fill="#d49444"/>
<circle cx="316.6" cy="117.5" r="0.85" fill="#7874b0"/>
<circle cx="340.6" cy="96.0" r="0.46" fill="#c07830"/>
<circle cx="326.2" cy="78.7" r="0.61" fill="#7874b0"/>
<circle cx="307.5" cy="94.3" r="0.56" fill="#c07830"/>
<circle cx="308.2" cy="83.5" r="0.61" fill="#8a80b8"/>
<circle cx="317.1" cy="119.2" r="0.75" fill="#c07830"/>
<circle cx="301.1" cy="104.7" r="0.52" fill="#7874b0"/>
<circle cx="310.7" cy="112.1" r="0.71" fill="#8a80b8"/>
<circle cx="300.6" cy="103.1" r="0.56" fill="#d49444"/>
<circle cx="312.8" cy="86.3" r="0.59" fill="#d0a060"/>
<circle cx="309.1" cy="84.9" r="0.47" fill="#a0663a"/>
<circle cx="316.6" cy="117.4" r="0.77" fill="#8a7cab"/>
<circle cx="340.6" cy="88.3" r="0.64" fill="#c07830"/>
<circle cx="311.3" cy="116.9" r="0.49" fill="#c98634"/>
<circle cx="337.7" cy="107.9" r="0.66" fill="#8a7cab"/>
<circle cx="332.2" cy="87.9" r="0.56" fill="#d0a060"/>
<circle cx="335.7" cy="119.4" r="0.67" fill="#c07830"/>
<circle cx="313.5" cy="78.5" r="0.70" fill="#8a7cab"/>
<circle cx="339.7" cy="87.0" r="0.49" fill="#d49444"/>
<circle cx="315.7" cy="82.4" r="0.70" fill="#d0a060"/>
<circle cx="333.8" cy="110.7" r="0.51" fill="#8a80b8"/>
<circle cx="334.6" cy="115.0" r="0.62" fill="#c98634"/>
<circle cx="339.9" cy="88.7" r="0.62" fill="#7874b0"/>
<circle cx="300.6" cy="94.9" r="0.47" fill="#c98634"/>
<circle cx="313.5" cy="119.4" r="0.70" fill="#d0a060"/>
<circle cx="332.1" cy="85.5" r="0.85" fill="#8a80b8"/>
<circle cx="315.4" cy="86.4" r="0.69" fill="#a0663a"/>
<circle cx="342.3" cy="104.1" r="0.76" fill="#a0663a"/>
<circle cx="338.2" cy="111.0" r="0.42" fill="#c07830"/>
<circle cx="318.5" cy="80.7" r="0.44" fill="#a0663a"/>
<circle cx="313.1" cy="85.9" r="0.53" fill="#7874b0"/>
<circle cx="313.5" cy="114.3" r="0.77" fill="#c98634"/>
<circle cx="316.6" cy="122.0" r="0.55" fill="#8a80b8"/>
<circle cx="345.1" cy="98.3" r="0.84" fill="#a0663a"/>
<circle cx="310.1" cy="82.4" r="0.49" fill="#a0663a"/>
<circle cx="319.0" cy="85.6" r="0.75" fill="#8a7cab"/>
<circle cx="343.1" cy="105.8" r="0.65" fill="#8a80b8"/>
<circle cx="338.7" cy="105.7" r="0.42" fill="#c98634"/>
<circle cx="330.7" cy="83.6" r="0.76" fill="#c98634"/>
<circle cx="339.5" cy="89.7" r="0.68" fill="#c07830"/>
<circle cx="315.9" cy="81.7" r="0.50" fill="#8a7cab"/>
<circle cx="313.2" cy="84.4" r="0.45" fill="#c07830"/>
<circle cx="328.5" cy="113.6" r="0.81" fill="#8a7cab"/>
<circle cx="312.6" cy="85.8" r="0.75" fill="#c07830"/>
<circle cx="307.2" cy="94.2" r="0.48" fill="#d49444"/>
<circle cx="336.4" cy="103.5" r="0.62" fill="#c98634"/>
<circle cx="300.5" cy="97.4" r="0.66" fill="#8a80b8"/>
<circle cx="338.6" cy="91.5" r="0.71" fill="#c98634"/>
<circle cx="302.6" cy="87.2" r="0.61" fill="#c07830"/>
<circle cx="309.7" cy="108.4" r="0.50" fill="#d0a060"/>
<circle cx="330.7" cy="112.0" r="0.40" fill="#c98634"/>
<circle cx="310.9" cy="79.6" r="0.50" fill="#8a7cab"/>
<circle cx="336.0" cy="113.4" r="0.72" fill="#d49444"/>
<circle cx="323.5" cy="121.8" r="0.82" fill="#c07830"/>
<circle cx="308.2" cy="116.5" r="0.73" fill="#c07830"/>
<circle cx="340.0" cy="110.7" r="0.61" fill="#d0a060"/>
<circle cx="337.6" cy="93.7" r="0.72" fill="#c98634"/>
<circle cx="336.6" cy="101.5" r="0.58" fill="#8a7cab"/>
<circle cx="314.8" cy="119.0" r="0.67" fill="#d0a060"/>
<circle cx="313.0" cy="122.0" r="0.61" fill="#d0a060"/>
<circle cx="334.4" cy="121.0" r="0.56" fill="#8a7cab"/>
<circle cx="310.0" cy="84.5" r="0.61" fill="#8a80b8"/>
<circle cx="325.8" cy="82.3" r="0.75" fill="#d49444"/>
<circle cx="307.0" cy="93.6" r="0.68" fill="#c98634"/>
<circle cx="309.7" cy="82.6" r="0.79" fill="#a0663a"/>
<circle cx="320.3" cy="86.5" r="0.67" fill="#c07830"/>
<circle cx="315.9" cy="117.6" r="0.57" fill="#7874b0"/>
<circle cx="314.5" cy="82.1" r="0.76" fill="#7874b0"/>
<circle cx="319.6" cy="114.2" r="0.52" fill="#d49444"/>
<circle cx="335.3" cy="119.9" r="0.53" fill="#c98634"/>
<circle cx="337.0" cy="118.2" r="0.52" fill="#c07830"/>
<circle cx="335.6" cy="82.7" r="0.56" fill="#d0a060"/>
<circle cx="339.3" cy="110.5" r="0.49" fill="#8a80b8"/>
<circle cx="322.5" cy="77.2" r="0.54" fill="#7874b0"/>
<circle cx="339.3" cy="106.9" r="0.82" fill="#7874b0"/>
<circle cx="310.4" cy="93.2" r="0.61" fill="#8a80b8"/>
<circle cx="341.3" cy="112.1" r="0.50" fill="#8a7cab"/>
<circle cx="302.3" cy="89.5" r="0.61" fill="#a0663a"/>
<circle cx="309.0" cy="92.0" r="0.44" fill="#7874b0"/>
<circle cx="328.3" cy="84.6" r="0.58" fill="#a0663a"/>
<circle cx="307.1" cy="98.8" r="0.82" fill="#c98634"/>
<circle cx="299.9" cy="101.5" r="0.68" fill="#a0663a"/>
<circle cx="326.1" cy="85.4" r="0.56" fill="#c98634"/>
<circle cx="308.4" cy="98.8" r="0.49" fill="#c98634"/>
<circle cx="336.0" cy="86.2" r="0.52" fill="#7874b0"/>
<circle cx="325.8" cy="82.5" r="0.75" fill="#d0a060"/>
<circle cx="332.4" cy="79.0" r="0.78" fill="#d49444"/>
<circle cx="309.8" cy="120.8" r="0.44" fill="#8a80b8"/>
<circle cx="341.1" cy="106.7" r="0.62" fill="#d0a060"/>
<circle cx="335.5" cy="81.6" r="0.81" fill="#8a80b8"/>
<circle cx="318.5" cy="86.2" r="0.65" fill="#a0663a"/>
<circle cx="307.5" cy="82.3" r="0.48" fill="#8a80b8"/>
<circle cx="332.9" cy="86.2" r="0.85" fill="#7874b0"/>
<circle cx="325.0" cy="114.7" r="0.82" fill="#d49444"/>
<circle cx="340.7" cy="107.6" r="0.78" fill="#c98634"/>
<circle cx="343.4" cy="106.9" r="0.43" fill="#d0a060"/>
<circle cx="335.7" cy="117.5" r="0.70" fill="#7874b0"/>
<circle cx="316.5" cy="119.5" r="0.61" fill="#8a7cab"/>
<circle cx="310.1" cy="113.4" r="0.62" fill="#a0663a"/>
<circle cx="330.5" cy="114.8" r="0.81" fill="#c07830"/>
<circle cx="337.1" cy="88.8" r="0.76" fill="#7874b0"/>
<circle cx="334.8" cy="119.1" r="0.82" fill="#8a7cab"/>
<circle cx="337.8" cy="83.5" r="0.75" fill="#c07830"/>
<circle cx="345.0" cy="94.4" r="0.78" fill="#8a80b8"/>
<circle cx="309.7" cy="87.1" r="0.55" fill="#a0663a"/>
<circle cx="324.0" cy="115.6" r="0.46" fill="#a0663a"/>
<circle cx="325.1" cy="114.8" r="0.65" fill="#d0a060"/>
<circle cx="336.5" cy="118.4" r="0.59" fill="#d49444"/>
<circle cx="322.8" cy="114.8" r="0.55" fill="#d49444"/>
<circle cx="331.8" cy="116.9" r="0.61" fill="#a0663a"/>
<circle cx="307.1" cy="102.2" r="0.68" fill="#c98634"/>
<circle cx="327.9" cy="77.9" r="0.78" fill="#d0a060"/>
<circle cx="338.3" cy="115.2" r="0.59" fill="#a0663a"/>
<circle cx="321.3" cy="116.8" r="0.44" fill="#7874b0"/>
<circle cx="316.9" cy="122.8" r="0.77" fill="#c98634"/>
<circle cx="337.8" cy="98.4" r="0.60" fill="#c98634"/>
<circle cx="303.4" cy="99.6" r="0.40" fill="#d0a060"/>
<circle cx="332.0" cy="83.7" r="0.56" fill="#c07830"/>
<circle cx="340.0" cy="105.1" r="0.66" fill="#d49444"/>
<circle cx="332.7" cy="112.6" r="0.72" fill="#7874b0"/>
<circle cx="327.4" cy="114.5" r="0.80" fill="#8a7cab"/>
<circle cx="319.9" cy="79.0" r="0.49" fill="#c07830"/>
<circle cx="306.5" cy="86.8" r="0.66" fill="#7874b0"/>
<circle cx="326.8" cy="114.5" r="0.78" fill="#8a80b8"/>
<circle cx="339.1" cy="90.9" r="0.55" fill="#a0663a"/>
<circle cx="334.9" cy="81.5" r="0.44" fill="#d0a060"/>
<circle cx="304.3" cy="112.1" r="0.79" fill="#c07830"/>
<circle cx="320.9" cy="116.3" r="0.42" fill="#a0663a"/>
<circle cx="316.7" cy="81.6" r="0.56" fill="#c98634"/>
<circle cx="344.1" cy="90.7" r="0.45" fill="#8a7cab"/>
<circle cx="317.6" cy="78.9" r="0.75" fill="#a0663a"/>
<circle cx="335.9" cy="85.9" r="0.53" fill="#c98634"/>
<circle cx="339.1" cy="113.8" r="0.63" fill="#d0a060"/>
<circle cx="303.5" cy="96.8" r="0.51" fill="#c98634"/>
<circle cx="339.6" cy="111.2" r="0.45" fill="#c07830"/>
<circle cx="322.4" cy="122.7" r="0.41" fill="#c98634"/>
<circle cx="341.6" cy="90.9" r="0.41" fill="#d49444"/>
<circle cx="306.5" cy="88.9" r="0.72" fill="#7874b0"/>
<circle cx="340.6" cy="114.2" r="0.42" fill="#c07830"/>
<circle cx="336.1" cy="113.7" r="0.45" fill="#d49444"/>
<circle cx="339.0" cy="116.3" r="0.79" fill="#7874b0"/>
<circle cx="334.4" cy="116.3" r="0.47" fill="#8a80b8"/>
<circle cx="333.2" cy="79.7" r="0.71" fill="#8a80b8"/>
<circle cx="306.1" cy="89.0" r="0.58" fill="#c98634"/>
<circle cx="342.8" cy="92.6" r="0.58" fill="#a0663a"/>
<circle cx="333.7" cy="82.5" r="0.77" fill="#a0663a"/>
<circle cx="330.9" cy="88.6" r="0.83" fill="#c07830"/>
<circle cx="337.6" cy="93.9" r="0.70" fill="#8a80b8"/>
<circle cx="337.6" cy="101.6" r="0.43" fill="#c07830"/>
<circle cx="305.1" cy="108.3" r="0.50" fill="#c98634"/>
<circle cx="306.7" cy="109.1" r="0.68" fill="#d0a060"/>
<circle cx="330.8" cy="79.2" r="0.42" fill="#c98634"/>
<circle cx="312.0" cy="87.6" r="0.68" fill="#d49444"/>
<circle cx="327.5" cy="87.0" r="0.51" fill="#8a7cab"/>
<circle cx="304.3" cy="98.2" r="0.53" fill="#c98634"/>
<circle cx="315.5" cy="119.7" r="0.43" fill="#8a7cab"/>
<circle cx="344.9" cy="94.6" r="0.44" fill="#d49444"/>
<circle cx="302.8" cy="88.0" r="0.46" fill="#d0a060"/>
<circle cx="334.0" cy="112.9" r="0.66" fill="#8a80b8"/>
<circle cx="319.3" cy="121.6" r="0.78" fill="#d49444"/>
<circle cx="307.3" cy="87.9" r="0.49" fill="#8a80b8"/>
<circle cx="317.9" cy="82.5" r="0.68" fill="#d49444"/>
<circle cx="305.7" cy="103.8" r="0.55" fill="#7874b0"/>
<circle cx="329.8" cy="118.5" r="0.41" fill="#8a80b8"/>
<circle cx="308.9" cy="118.6" r="0.55" fill="#7874b0"/>
<circle cx="314.9" cy="115.4" r="0.53" fill="#7874b0"/>
<circle cx="324.7" cy="85.1" r="0.67" fill="#8a7cab"/>
<circle cx="310.6" cy="117.3" r="0.78" fill="#8a80b8"/>
<circle cx="309.3" cy="117.7" r="0.85" fill="#7874b0"/>
<circle cx="312.3" cy="79.5" r="0.55" fill="#8a80b8"/>
<circle cx="310.0" cy="117.1" r="0.77" fill="#d49444"/>
<circle cx="301.2" cy="98.1" r="0.52" fill="#d0a060"/>
<circle cx="308.6" cy="85.6" r="0.59" fill="#c07830"/>
<circle cx="336.9" cy="111.4" r="0.62" fill="#8a7cab"/>
<circle cx="341.7" cy="95.9" r="0.78" fill="#8a80b8"/>
<circle cx="318.8" cy="120.4" r="0.57" fill="#8a7cab"/>
<circle cx="304.8" cy="106.0" r="0.53" fill="#a0663a"/>
<circle cx="307.4" cy="112.9" r="0.69" fill="#8a80b8"/>
<circle cx="343.9" cy="101.4" r="0.57" fill="#d0a060"/>
<circle cx="316.5" cy="118.9" r="0.60" fill="#c07830"/>
<circle cx="310.8" cy="111.9" r="0.55" fill="#a0663a"/>
<circle cx="334.9" cy="81.9" r="0.49" fill="#a0663a"/>
<circle cx="301.8" cy="110.8" r="0.41" fill="#c98634"/>
<circle cx="321.6" cy="123.4" r="0.81" fill="#d49444"/>
<circle cx="325.3" cy="81.3" r="0.63" fill="#8a80b8"/>
<circle cx="301.8" cy="98.2" r="0.61" fill="#8a80b8"/>
<circle cx="342.6" cy="105.8" r="0.83" fill="#d0a060"/>
<circle cx="313.9" cy="83.3" r="0.58" fill="#8a7cab"/>
<ellipse cx="299.3" cy="100.4" rx="2.4" ry="0.7" transform="rotate(34 299.3 100.4)" fill="#dcdce8"/>
<ellipse cx="303.8" cy="110.6" rx="2.2" ry="1.4" transform="rotate(106 303.8 110.6)" fill="#dcdce8"/>
<ellipse cx="313.9" cy="78.1" rx="1.1" ry="0.9" transform="rotate(66 313.9 78.1)" fill="#dcdce8"/>
<ellipse cx="340.7" cy="109.8" rx="1.3" ry="1.2" transform="rotate(53 340.7 109.8)" fill="#dcdce8"/>
<ellipse cx="308.4" cy="121.7" rx="1.8" ry="1.5" transform="rotate(114 308.4 121.7)" fill="#dcdce8"/>
<ellipse cx="298.3" cy="96.8" rx="1.3" ry="1.4" transform="rotate(74 298.3 96.8)" fill="#dcdce8"/>
<ellipse cx="343.4" cy="108.8" rx="1.2" ry="1.1" transform="rotate(114 343.4 108.8)" fill="#dcdce8"/>
<ellipse cx="318.5" cy="77.3" rx="1.0" ry="0.6" transform="rotate(128 318.5 77.3)" fill="#dcdce8"/>
<ellipse cx="298.6" cy="92.2" rx="1.6" ry="0.7" transform="rotate(3 298.6 92.2)" fill="#dcdce8"/>
<ellipse cx="341.6" cy="104.1" rx="2.2" ry="1.1" transform="rotate(157 341.6 104.1)" fill="#dcdce8"/>
<ellipse cx="340.0" cy="87.0" rx="1.2" ry="0.8" transform="rotate(108 340.0 87.0)" fill="#dcdce8"/>
<ellipse cx="336.0" cy="118.0" rx="1.8" ry="0.6" transform="rotate(14 336.0 118.0)" fill="#dcdce8"/>
<ellipse cx="343.3" cy="93.4" rx="1.7" ry="1.0" transform="rotate(144 343.3 93.4)" fill="#dcdce8"/>
<ellipse cx="308.7" cy="81.5" rx="1.9" ry="0.7" transform="rotate(43 308.7 81.5)" fill="#dcdce8"/>
<ellipse cx="319.6" cy="118.5" rx="1.9" ry="1.4" transform="rotate(171 319.6 118.5)" fill="#dcdce8"/>
<ellipse cx="340.5" cy="108.0" rx="1.9" ry="0.6" transform="rotate(40 340.5 108.0)" fill="#dcdce8"/>
<ellipse cx="303.4" cy="115.2" rx="1.1" ry="0.6" transform="rotate(43 303.4 115.2)" fill="#dcdce8"/>
<ellipse cx="325.8" cy="119.5" rx="1.9" ry="0.8" transform="rotate(1 325.8 119.5)" fill="#dcdce8"/>
<ellipse cx="337.0" cy="84.4" rx="1.6" ry="0.8" transform="rotate(160 337.0 84.4)" fill="#dcdce8"/>
<ellipse cx="340.9" cy="98.1" rx="2.0" ry="1.2" transform="rotate(105 340.9 98.1)" fill="#dcdce8"/>
<ellipse cx="304.4" cy="111.5" rx="2.1" ry="0.6" transform="rotate(156 304.4 111.5)" fill="#dcdce8"/>
<ellipse cx="339.0" cy="110.6" rx="1.6" ry="0.6" transform="rotate(159 339.0 110.6)" fill="#dcdce8"/>
<ellipse cx="305.9" cy="113.2" rx="1.5" ry="1.4" transform="rotate(60 305.9 113.2)" fill="#dcdce8"/>
<ellipse cx="307.6" cy="79.6" rx="1.6" ry="1.4" transform="rotate(100 307.6 79.6)" fill="#dcdce8"/>
<ellipse cx="306.0" cy="114.6" rx="1.5" ry="1.0" transform="rotate(50 306.0 114.6)" fill="#dcdce8"/>
<ellipse cx="346.6" cy="104.4" rx="1.4" ry="0.7" transform="rotate(35 346.6 104.4)" fill="#dcdce8"/>
<ellipse cx="299.2" cy="93.7" rx="1.8" ry="1.0" transform="rotate(143 299.2 93.7)" fill="#dcdce8"/>
<ellipse cx="323.8" cy="121.4" rx="1.3" ry="1.0" transform="rotate(113 323.8 121.4)" fill="#dcdce8"/>
<ellipse cx="304.7" cy="90.6" rx="1.7" ry="0.8" transform="rotate(155 304.7 90.6)" fill="#dcdce8"/>
<ellipse cx="310.9" cy="77.7" rx="2.5" ry="1.1" transform="rotate(79 310.9 77.7)" fill="#dcdce8"/>
<circle cx="322.5" cy="100.5" r="14.0" fill="#fdfdfd" stroke="#d8c890" stroke-width="0.4"/>
<defs><linearGradient id="g1" x1="0" y1="0" x2="0" y2="1"><stop offset="0" stop-color="#ff4818"/><stop offset="0.3" stop-color="#d81818"/><stop offset="0.45" stop-color="#701068"/><stop offset="0.56" stop-color="#2020f0"/><stop offset="0.7" stop-color="#181848"/><stop offset="0.85" stop-color="#807a20"/><stop offset="1" stop-color="#f4f400"/></linearGradient></defs>
<rect x="187.4" y="48.1" width="2.5" height="49.699999999999996" fill="url(#g1)"/>
<text x="185.9" y="44.3" textLength="13" lengthAdjust="spacingAndGlyphs" style="font-family:'Liberation Sans',sans-serif;font-size:2.8px;fill:#555;stroke:none">Diameter (mm)</text>
<text x="191.6" y="48.3" textLength="6.6" lengthAdjust="spacingAndGlyphs" style="font-family:'Liberation Sans',sans-serif;font-size:3.3px;fill:#555;stroke:none">0.80</text>
<text x="191.6" y="74.2" textLength="6.6" lengthAdjust="spacingAndGlyphs" style="font-family:'Liberation Sans',sans-serif;font-size:3.3px;fill:#555;stroke:none">0.70</text>
<text x="191.6" y="97.5" textLength="6.6" lengthAdjust="spacingAndGlyphs" style="font-family:'Liberation Sans',sans-serif;font-size:3.3px;fill:#555;stroke:none">0.60</text>
<defs><linearGradient id="g2" x1="0" y1="0" x2="0" y2="1"><stop offset="0" stop-color="#ff4818"/><stop offset="0.3" stop-color="#d81818"/><stop offset="0.45" stop-color="#701068"/><stop offset="0.56" stop-color="#2020f0"/><stop offset="0.7" stop-color="#181848"/><stop offset="0.85" stop-color="#807a20"/><stop offset="1" stop-color="#f4f400"/></linearGradient></defs>
<rect x="276.4" y="78.1" width="2.5" height="49.60000000000001" fill="url(#g2)"/>
<text x="274.9" y="74.9" textLength="13" lengthAdjust="spacingAndGlyphs" style="font-family:'Liberation Sans',sans-serif;font-size:2.8px;fill:#555;stroke:none">Diameter (mm)</text>
<text x="280.59999999999997" y="78.3" textLength="6.6" lengthAdjust="spacingAndGlyphs" style="font-family:'Liberation Sans',sans-serif;font-size:3.3px;fill:#555;stroke:none">0.80</text>
<text x="280.59999999999997" y="104.1" textLength="6.6" lengthAdjust="spacingAndGlyphs" style="font-family:'Liberation Sans',sans-serif;font-size:3.3px;fill:#555;stroke:none">0.70</text>
<text x="280.59999999999997" y="127.4" textLength="6.6" lengthAdjust="spacingAndGlyphs" style="font-family:'Liberation Sans',sans-serif;font-size:3.3px;fill:#555;stroke:none">0.60</text>
<polyline points="123.8,204.5 128.0,31.5 131.8,60.0 135.9,88.0 137.5,100.0 139.5,110.0 141.9,120.0 143.5,126.0 145.5,131.0 147.5,135.5 149.0,140.5 151.9,145.3 153.5,144.0 155.6,141.4 157.0,146.0 158.9,152.8 160.9,155.4 162.9,153.4 164.5,156.5 166.8,159.8 170.8,164.7 174.8,165.7 178.7,165.3 181.7,162.7 185.7,156.8 187.5,164.0 190.0,170.8 192.0,174.0 194.9,176.8 198.9,178.8 202.9,181.3 205.8,181.7 208.8,178.4 211.8,181.7 215.8,181.3 219.7,180.8 223.7,184.7 226.7,183.7 230.6,184.7 233.0,183.5 236.0,184.8 238.9,188.4 241.9,189.2 244.9,188.8 247.9,190.4 250.8,189.8 253.8,191.8 256.8,190.8 259.8,193.8 261.7,192.8 264.7,189.8 267.7,192.8 271.7,192.8 275.6,191.8 278.0,191.8 281.0,191.4 283.9,190.4 286.9,189.4 289.9,191.4 291.9,192.2 294.8,189.8 297.8,191.4 299.8,190.8 302.8,191.8 305.8,190.2 308.7,192.2 312.7,194.8 316.7,195.8 320.6,196.2 323.2,195.7 327.2,193.8 330.3,191.7 332.7,190.9 335.1,192.5 338.3,195.3 341.5,196.5 343.8,196.0 347.8,195.7 351.8,195.7 354.2,196.9 358.2,198.1 362.1,196.5 365.3,198.1 367.7,197.7 372.0,198.1" fill="none" stroke="#0a0aff" stroke-width="1.6" stroke-linejoin="round"/>
<polyline points="123.8,204.5 128.0,73.4 131.0,84.0 133.9,95.0 136.5,106.0 138.0,112.0 139.8,120.0 142.0,128.0 145.0,140.9 147.9,148.0 149.0,149.8 152.9,157.8 156.9,163.7 160.9,166.7 164.8,169.7 170.8,173.3 176.7,176.6 182.7,179.6 185.0,181.0 191.0,180.8 196.9,181.3 202.9,183.7 210.8,185.7 216.7,187.7 224.7,190.7 230.6,191.7 234.0,192.4 237.9,193.8 241.9,194.4 245.9,193.2 249.8,192.8 253.8,192.8 257.8,194.4 261.7,195.8 265.7,196.3 269.7,196.7 275.6,196.7 281.0,196.8 284.9,197.8 288.9,197.8 292.9,196.2 296.8,197.8 300.8,197.8 304.8,199.8 308.7,198.2 314.7,198.8 320.0,198.5 326.4,198.1 332.7,198.8 339.1,199.6 345.4,199.6 351.8,199.6 358.2,200.4 364.5,201.2 372.0,200.8" fill="none" stroke="#18e818" stroke-width="1.6" stroke-linejoin="round"/>
<polyline points="123.8,205.0 127.5,94.3 130.5,102.0 133.5,110.0 136.3,120.0 140.0,130.0 145.0,142.9 146.7,148.0 149.0,151.8 152.9,159.8 156.9,164.7 160.0,167.0 163.8,165.7 165.8,168.7 168.8,169.7 172.8,174.6 178.7,177.6 185.0,179.8 189.0,177.8 192.9,179.8 196.9,182.7 199.9,184.7 202.9,182.7 206.8,184.7 210.8,185.7 216.7,186.7 222.7,189.3 226.7,190.7 230.6,187.7 234.0,190.4 237.9,190.8 241.9,189.2 245.9,190.4 249.8,191.4 253.8,192.4 257.8,193.8 261.7,194.8 265.7,192.8 269.7,192.8 273.7,194.4 281.0,196.2 286.9,197.4 292.9,196.8 298.8,197.8 304.8,198.2 310.7,197.8 316.7,198.2 326.4,199.6 332.7,200.1 339.1,199.6 345.4,200.1 351.8,199.6 358.2,198.8 364.5,198.5 372.0,198.1" fill="none" stroke="#ff7f1a" stroke-width="1.6" stroke-linejoin="round"/>
<path d="M99.0,204.4h4.5 M99.0,184.4h3 M99.0,164.4h4.5 M99.0,144.4h3 M99.0,124.4h4.5 M99.0,104.4h3 M99.0,84.4h4.5 M99.0,64.4h3 M99.0,44.4h4.5 M99.0,24.4h3 M99.0,4.4h4.5 M123.2,224.6v-4.5 M148.2,224.6v-3 M173.2,224.6v-4.5 M198.2,224.6v-3 M223.2,224.6v-4.5 M248.2,224.6v-3 M273.2,224.6v-4.5 M298.2,224.6v-3 M323.2,224.6v-4.5 M348.2,224.6v-3 M373.2,224.6v-4.5" stroke="#444" stroke-width="1.2" fill="none"/>
<rect x="99.0" y="4.5" width="274.0" height="220.1" fill="none" stroke="#444" stroke-width="1.7"/>
<text x="94.1" y="207.9" text-anchor="end" font-size="9.3" style="stroke-width:0.18px">0.0</text>
<text x="94.1" y="167.9" text-anchor="end" font-size="9.3" style="stroke-width:0.18px">0.4</text>
<text x="94.1" y="127.9" text-anchor="end" font-size="9.3" style="stroke-width:0.18px">0.8</text>
<text x="94.1" y="87.9" text-anchor="end" font-size="9.3" style="stroke-width:0.18px">1.2</text>
<text x="94.1" y="47.9" text-anchor="end" font-size="9.3" style="stroke-width:0.18px">1.6</text>
<text x="94.1" y="7.9" text-anchor="end" font-size="9.3" style="stroke-width:0.18px">2.0</text>
<text x="123.5" y="237.6" text-anchor="middle" font-size="9.3" style="stroke-width:0.18px">0.0</text>
<text x="173.5" y="237.6" text-anchor="middle" font-size="9.3" style="stroke-width:0.18px">0.2</text>
<text x="223.5" y="237.6" text-anchor="middle" font-size="9.3" style="stroke-width:0.18px">0.4</text>
<text x="273.5" y="237.6" text-anchor="middle" font-size="9.3" style="stroke-width:0.18px">0.6</text>
<text x="323.5" y="237.6" text-anchor="middle" font-size="9.3" style="stroke-width:0.18px">0.8</text>
<text x="373.5" y="237.6" text-anchor="middle" font-size="9.3" style="stroke-width:0.18px">1.0</text>
<text x="236.6" y="249.4" text-anchor="middle" font-size="10.8" textLength="35.6" lengthAdjust="spacingAndGlyphs">Time (s)</text>
<text transform="translate(75.7,113.9) rotate(-90)" text-anchor="middle" font-size="10.7" textLength="143.2" lengthAdjust="spacingAndGlyphs">Average velocity of particles (m/s)</text>
<line x1="130" y1="17.7" x2="154.6" y2="17.7" stroke="#0a0aff" stroke-width="1.6"/>
<text x="160.2" y="21.4" font-size="11.2" textLength="41.2" lengthAdjust="spacingAndGlyphs">50mPa·s</text>
<line x1="203.5" y1="17.7" x2="228" y2="17.7" stroke="#18e818" stroke-width="1.6"/>
<text x="233.7" y="21.4" font-size="11.2" textLength="41.2" lengthAdjust="spacingAndGlyphs">70mPa·s</text>
<line x1="277.1" y1="17.7" x2="300.6" y2="17.7" stroke="#ff7f1a" stroke-width="1.6"/>
<text x="306.5" y="21.4" font-size="11.2" textLength="41.2" lengthAdjust="spacingAndGlyphs">90mPa·s</text>
<text x="193.4" y="116.7" font-size="11.0" textLength="73" lengthAdjust="spacingAndGlyphs">The bridging zone</text>
<text x="193.4" y="128.2" font-size="11.0" textLength="71.2" lengthAdjust="spacingAndGlyphs">is initially formed</text>
<text x="277.6" y="147.5" font-size="10.8" textLength="77.5" lengthAdjust="spacingAndGlyphs">Particle plugging is</text>
<text x="277.6" y="159.3" font-size="10.8" textLength="78.6" lengthAdjust="spacingAndGlyphs">basically completed</text>
<rect x="162" y="145.6" width="24.2" height="40.5" fill="none" stroke="#f02020" stroke-width="1.6" stroke-dasharray="4,2.5"/>
<rect x="322" y="183.6" width="50.2" height="29" fill="none" stroke="#f02020" stroke-width="1.6" stroke-dasharray="4,2.5"/>
<line x1="185.9" y1="145.4" x2="196.5" y2="135.9" stroke="#f02020" stroke-width="1.4"/><polygon points="199.9,132.9 198.1,137.7 194.9,134.1" fill="#f02020"/>
<line x1="348.0" y1="183.4" x2="334.8" y2="166.9" stroke="#f02020" stroke-width="1.4"/><polygon points="332.0,163.4 336.7,165.4 332.9,168.4" fill="#f02020"/>
</svg></body></html>
